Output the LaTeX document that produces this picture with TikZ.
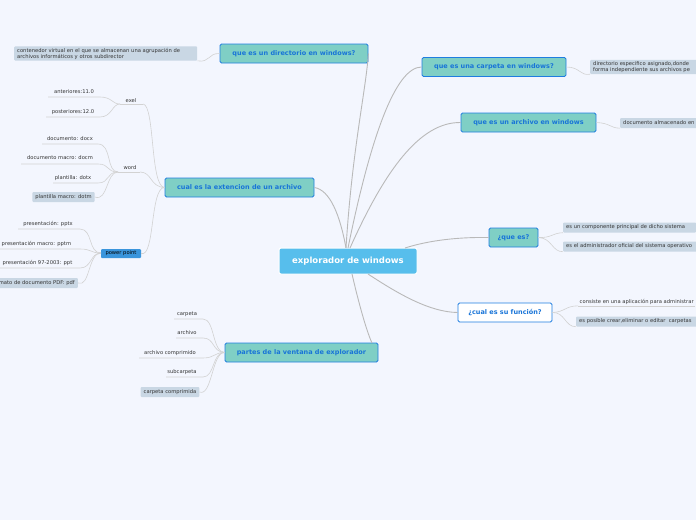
\documentclass[tikz,border=0pt]{standalone}
\usepackage{fontspec}
\setmainfont{DejaVu Sans}
\definecolor{rootc}{HTML}{57BEEC}
\definecolor{tealc}{HTML}{7FCFC5}
\definecolor{bordc}{HTML}{1F7DE0}
\definecolor{txtc}{HTML}{1874D8}
\definecolor{leafc}{HTML}{C9D7E4}
\definecolor{ppc}{HTML}{3A95DC}
\definecolor{bgc}{HTML}{F3F6FE}
\begin{document}
\begin{tikzpicture}[x=1pt,y=-1pt,
  main/.style={draw=bordc,fill=tealc,rounded corners=1.5pt,line width=0.8pt,text=txtc,font=\fontsize{6.5}{7}\selectfont\bfseries,minimum height=19pt,inner xsep=4pt},
  leaf/.style={font=\fontsize{5.2}{6}\selectfont,text=black!80,inner sep=1.5pt},
  lbox/.style={leaf,fill=leafc,rounded corners=1pt,minimum height=10pt,inner xsep=3pt},
  conn/.style={draw=gray!55,line width=0.9pt},
  sconn/.style={draw=gray!35,line width=0.6pt}]
\useasboundingbox (0,0) rectangle (696,520);
\fill[bgc] (0,0) rectangle (696,520);
% root
\node[fill=rootc,draw=white,line width=1pt,rounded corners=2pt,text=white,font=\fontsize{8.5}{9}\selectfont\bfseries,minimum width=138pt,minimum height=26pt] (root) at (348,261) {explorador de windows};
% main nodes
\node[main,minimum width=148pt] (dir) at (294,53.5) {que es un directorio en windows?};
\node[main,minimum width=144pt] (carp) at (494,67) {que es una carpeta en windows?};
\node[main,minimum width=135pt] (arch) at (528.5,122.5) {que es un archivo en windows};
\node[main,minimum width=149pt] (ext) at (239.5,187.5) {cual es la extencion de un archivo};
\node[main,minimum width=49pt] (qes) at (513.5,237.5) {¿que es?};
\node[main,minimum width=94pt,fill=white] (fun) at (505,312.5) {¿cual es su función?};
\node[main,minimum width=153pt] (part) at (301.5,352.5) {partes de la ventana de explorador};
% root connectors
\draw[conn] (346,248) .. controls (352,150) and (366,90) .. (dir.east);
\draw[conn] (348,248) .. controls (370,140) and (395,67) .. (carp.west);
\draw[conn] (350,248) .. controls (385,170) and (420,122) .. (arch.west);
\draw[conn] (346,248) .. controls (340,215) and (330,190) .. (ext.east);
\draw[conn] (405,248) .. controls (430,240) and (460,237) .. (qes.west);
\draw[conn] (368,274) .. controls (400,295) and (430,312) .. (fun.west);
\draw[conn] (352,274) .. controls (358,300) and (366,330) .. (372,343);
% directorio leaf
\node[lbox,align=left,anchor=west,minimum width=183pt,text width=177pt] (dl) at (14,53.5) {contenedor virtual en el que se almacenan una agrupación de archivos informáticos y otros subdirector};
\draw[sconn] (dir.west) .. controls (208,53) and (210,63) .. (dl.south east);
% carpeta leaf
\node[lbox,align=left,anchor=west,minimum width=110pt,text width=104pt] (cl) at (590,67) {directorio especifico asignado,donde\\forma independiente sus archivos pe};
\draw[sconn] (carp.east) .. controls (580,67) and (580,76) .. (cl.south west);
% archivo leaf
\node[lbox,anchor=west,minimum width=80pt,text width=74pt,align=left] (al) at (620,123) {documento almacenado en};
\draw[sconn] (arch.east) .. controls (610,123) and (610,128) .. (al.south west);
% que es leaves
\node[lbox,anchor=west,minimum width=133pt,align=left,text width=127pt] (q1) at (563,227.5) {es un componente principal de dicho sistema};
\node[lbox,anchor=west,minimum width=140pt,align=left,text width=134pt] (q2) at (563,246.5) {es el administrador oficial del sistema operativo};
\draw[sconn] (qes.east) .. controls (552,238) and (552,233) .. (q1.south west);
\draw[sconn] (qes.east) .. controls (552,238) and (552,252) .. (q2.south west);
% funcion leaves
\node[leaf,anchor=west] (f1) at (578,301.5) {consiste en una aplicación para administrar};
\draw[sconn] (f1.south west) -- (f1.south east);
\node[lbox,anchor=west,minimum width=130pt,align=left,text width=124pt] (f2) at (576,321.5) {es posible crear,eliminar o editar \ carpetas};
\draw[sconn] (fun.east) .. controls (565,312) and (565,306) .. (f1.south west);
\draw[sconn] (fun.east) .. controls (565,312) and (565,327) .. (f2.south west);
% extension subtree
\node[leaf] (exel) at (131,101) {exel};
\node[leaf] (word) at (130,168) {word};
\node[fill=ppc,text=black,font=\fontsize{5.2}{6}\selectfont,minimum width=40pt,minimum height=9pt,inner sep=1pt,rounded corners=1pt] (pp) at (121,253.5) {power point};
\draw[sconn] (ext.west) .. controls (150,187) and (155,105) .. (143,104);
\draw[sconn] (ext.west) .. controls (150,187) and (152,172) .. (140,172);
\draw[sconn] (ext.west) .. controls (150,187) and (155,258) .. (pp.east);
\draw[sconn] (120,104) -- (143,104);
\draw[sconn] (118,172) -- (140,172);
% exel leaves
\node[leaf] (e1) at (74,92) {anteriores:11.0};
\node[leaf] (e2) at (73,112) {posteriores:12.0};
\draw[sconn] (48,97) -- (100,97) .. controls (112,97) and (112,104) .. (120,104);
\draw[sconn] (46,117) -- (100,117) .. controls (112,117) and (112,104) .. (120,104);
% word leaves
\node[leaf] (w1) at (70,139) {documento: docx};
\node[leaf] (w2) at (60,158) {documento macro: docm};
\node[leaf] (w3) at (73,178) {plantilla: dotx};
\node[lbox] (w4) at (63.5,197) {plantilla macro: dotm};
\draw[sconn] (42,144) -- (98,144) .. controls (112,144) and (106,172) .. (118,172);
\draw[sconn] (21,164) -- (98,164) .. controls (110,164) and (106,172) .. (118,172);
\draw[sconn] (53,183) -- (98,183) .. controls (110,183) and (106,172) .. (118,172);
\draw[sconn] (w4.east) .. controls (108,202) and (106,172) .. (118,172);
% power point leaves
\node[leaf] (p1) at (48,224) {presentación: pptx};
\node[leaf,anchor=west] (p2) at (0,244) {presentación macro: pptm};
\node[leaf,anchor=east] (p3) at (74,263) {presentación 97-2003: ppt};
\node[lbox,anchor=east] (p4) at (78,283) {formato de documento PDF: pdf};
\draw[sconn] (18,229) -- (80,229) .. controls (93,229) and (88,253) .. (101,253);
\draw[sconn] (0,249) -- (80,249) .. controls (92,249) and (90,253) .. (101,253);
\draw[sconn] (0,268) -- (80,268) .. controls (92,268) and (90,253) .. (101,253);
\draw[sconn] (p4.east) .. controls (90,288) and (88,253) .. (101,253);
% partes leaves
\node[leaf] (x1) at (187,314) {carpeta};
\node[leaf] (x2) at (187,333) {archivo};
\node[leaf] (x3) at (170,353) {archivo comprimido};
\node[leaf] (x4) at (182,372) {subcarpeta};
\node[lbox] (x5) at (170,392) {carpeta comprimida};
\draw[sconn] (174,319) -- (203,319) .. controls (215,319) and (212,352) .. (part.west);
\draw[sconn] (176,338) -- (203,338) .. controls (215,338) and (212,352) .. (part.west);
\draw[sconn] (139,358) -- (203,358) .. controls (215,358) and (215,352) .. (part.west);
\draw[sconn] (166,377) -- (203,377) .. controls (215,377) and (212,352) .. (part.west);
\draw[sconn] (x5.east) .. controls (212,397) and (212,352) .. (part.west);
\end{tikzpicture}
\end{document}
